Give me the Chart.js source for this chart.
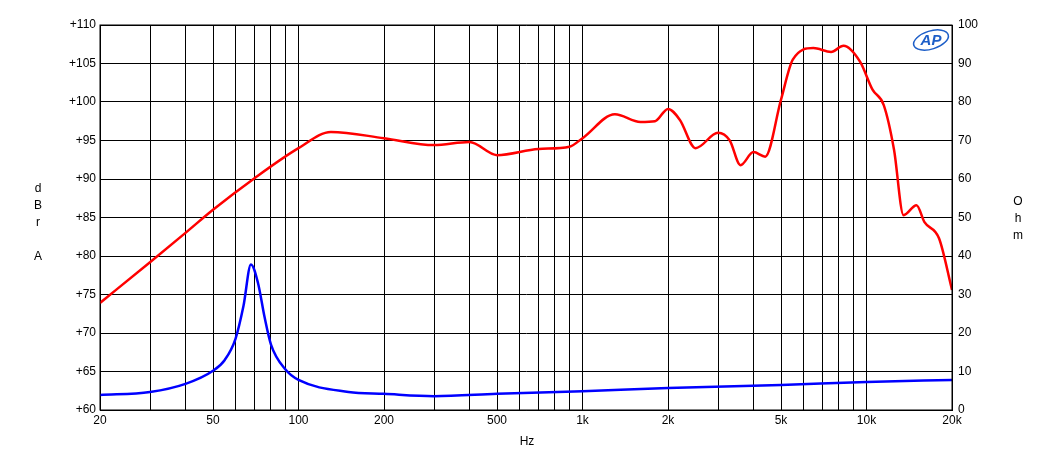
<!DOCTYPE html>
<html><head><meta charset="utf-8">
<script src="https://cdn.jsdelivr.net/npm/chart.js@4/dist/chart.umd.min.js"></script>
<style>body{margin:0;background:#fff}#wrap{width:1057px;height:461px}</style>
</head><body><div id="wrap"><canvas id="c"></canvas></div>
<script>
// frequency points (Hz)
const freqRed = [20,30,40,50,70,100,130,200,300,400,500,700,900,1000,1300,1600,1800,2000,2200,2500,3000,3300,3600,4000,4400,5000,5500,6500,7500,8300,9500,10500,11500,12500,13500,15000,16000,18000,20000];
const dbr = [73.9,79.2,83,86,90.1,94,96.1,95.3,94.4,94.8,93.1,93.9,94.2,95.3,98.4,97.4,97.5,99.1,97.7,94,96,95,91.8,93.5,92.9,100.3,105.5,107,106.5,107.3,105.2,101.6,99.6,93.8,85.3,86.6,84.4,82.3,75.6];
const freqBlue = [20,30,40,50,55,60,64,68,72,76,80,90,100,150,200,300,500,1000,2000,5000,10000,20000];
const ohm = [3.9,4.7,6.8,10.2,13,18.5,27,37.8,33,24,17,10.5,7.8,4.7,4.2,3.6,4.2,4.9,5.7,6.5,7.3,7.8];
const gridFreqs = [20,30,40,50,60,70,80,90,100,200,300,400,500,600,700,800,900,1000,2000,3000,4000,5000,6000,7000,8000,9000,10000,20000];
const freqLabels = {20:'20',50:'50',100:'100',200:'200',500:'500',1000:'1k',2000:'2k',5000:'5k',10000:'10k',20000:'20k'};

const font = {family:'Liberation Sans', size:12};
const decor = {
  id:'decor',
  afterDraw(chart){
    const c = chart.ctx, a = chart.chartArea;
    c.save();
    c.fillStyle='#000'; c.font='12px Liberation Sans'; c.textAlign='center';
    ['d','B','r','','A'].forEach((t,i)=>c.fillText(t,38,192+i*17));
    ['O','h','m'].forEach((t,i)=>c.fillText(t,1018,205+i*17));
    c.fillText('Hz',527,445);
    c.fillStyle='#1e5fc8'; c.font='italic bold 15px Liberation Sans';
    c.fillText('AP',931,45);
    c.strokeStyle='#1e5fc8'; c.lineWidth=1.5;
    c.beginPath(); c.ellipse(931,40,18,9,-0.3,0,Math.PI*2); c.stroke();
    c.strokeStyle='#000'; c.lineWidth=1; c.strokeRect(a.left,a.top,a.right-a.left,a.bottom-a.top);
    c.restore();
  }
};

new Chart(document.getElementById('c'), {
  type:'line',
  data:{datasets:[
    {data:freqRed.map((f,i)=>({x:f,y:dbr[i]})), borderColor:'#ff0000', borderWidth:2.5, pointRadius:0, cubicInterpolationMode:'monotone', yAxisID:'y'},
    {data:freqBlue.map((f,i)=>({x:f,y:ohm[i]})), borderColor:'#0000ff', borderWidth:2.5, pointRadius:0, cubicInterpolationMode:'monotone', yAxisID:'y2'}
  ]},
  options:{
    responsive:true, maintainAspectRatio:false, animation:false,
    layout:{padding:{top:25,left:0,right:0,bottom:0}},
    plugins:{legend:{display:false}, tooltip:{enabled:false}},
    scales:{
      x:{type:'logarithmic', min:20, max:20000,
        afterBuildTicks:s=>{s.ticks=gridFreqs.map(v=>({value:v}));},
        ticks:{autoSkip:false, maxRotation:0, color:'#000', font, callback:v=>freqLabels[v]||''},
        grid:{color:'#000', drawTicks:false}, border:{color:'#000'},
        afterFit:s=>{s.height=51;}},
      y:{min:60, max:110, position:'left',
        ticks:{stepSize:5, color:'#000', font, padding:4, callback:v=>'+'+v},
        grid:{color:'#000', drawTicks:false}, border:{color:'#000'},
        afterFit:s=>{s.width=100;}},
      y2:{min:0, max:100, position:'right',
        ticks:{stepSize:10, color:'#000', font, padding:6},
        grid:{display:false, drawTicks:false}, border:{color:'#000'},
        afterFit:s=>{s.width=105;}}
    }
  },
  plugins:[decor]
});
</script></body></html>
